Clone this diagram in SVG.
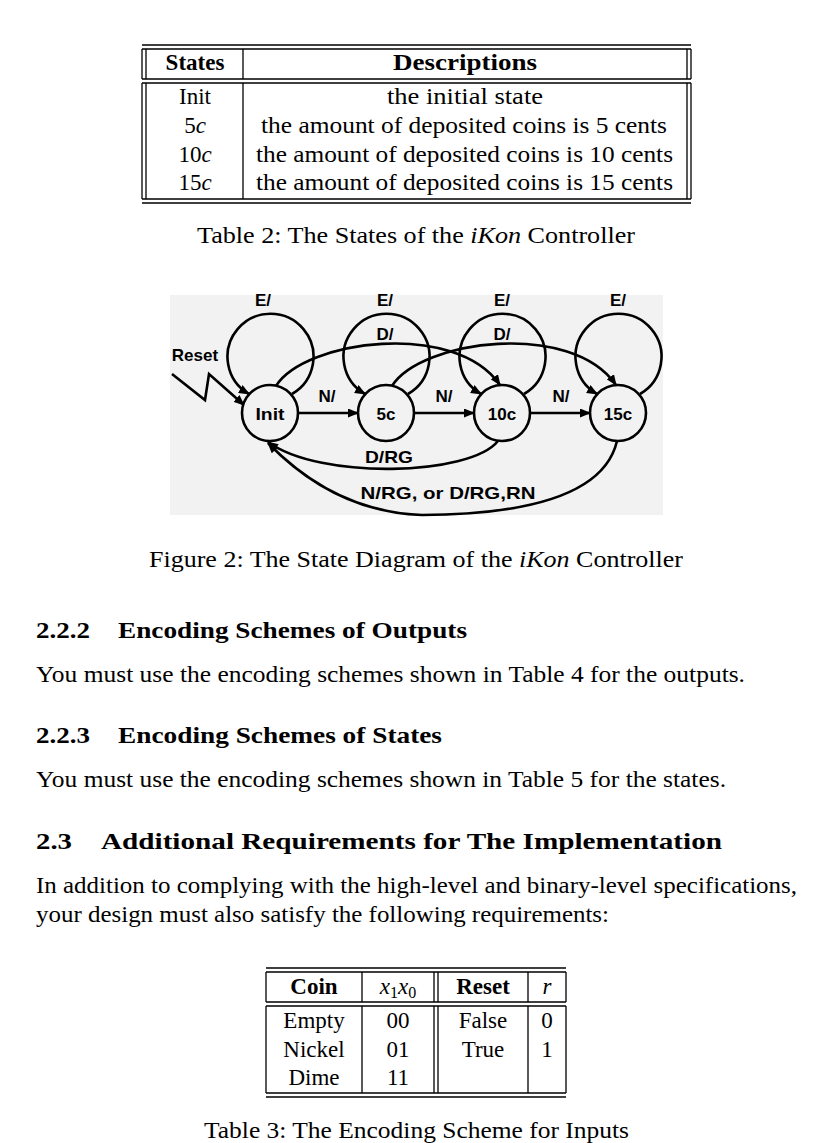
<svg xmlns="http://www.w3.org/2000/svg" width="832" height="1143" viewBox="0 0 832 1143">
<style>
.t{font-family:"Liberation Serif","Times New Roman",serif;font-size:23px;fill:#000}
.b{font-weight:bold}
.c{text-anchor:middle}
.i{font-style:italic}
.r{stroke:#000;stroke-width:1.3;fill:none}
.dl{font-family:"Liberation Sans",Arial,sans-serif;font-weight:bold;font-size:17px;fill:#000;text-anchor:middle}
.nd{fill:#f2f2f2;stroke:#000;stroke-width:2.6}
.e{fill:none;stroke:#000;stroke-width:2.6}
</style>
<defs>
<marker id="ah" markerWidth="11" markerHeight="9" refX="10" refY="4.5" orient="auto" markerUnits="userSpaceOnUse">
<path d="M0,0 L11,4.5 L0,9 z" fill="#000"/>
</marker>
</defs>
<rect width="832" height="1143" fill="#fff"/>

<g id="table2">
<path class="r" d="M142,45H691 M142,49H691 M142,79H691 M142,83H691 M142,199H691 M142,203H691"/>
<path class="r" d="M142,49V79 M146,49V79 M243,49V79 M687,49V79 M691,49V79 M142,83V199 M146,83V199 M243,83V199 M687,83V199 M691,83V199"/>
<text class="t b c" x="195" y="70">States</text>
<text class="t b c" x="465" y="70" textLength="144" lengthAdjust="spacingAndGlyphs">Descriptions</text>
<text class="t c" x="195" y="104">Init</text>
<text class="t c" x="195" y="133">5<tspan class="i">c</tspan></text>
<text class="t c" x="195" y="161.5">10<tspan class="i">c</tspan></text>
<text class="t c" x="195" y="190">15<tspan class="i">c</tspan></text>
<text class="t c" x="465" y="104" textLength="156" lengthAdjust="spacingAndGlyphs">the initial state</text>
<text class="t c" x="464" y="133" textLength="406" lengthAdjust="spacingAndGlyphs">the amount of deposited coins is 5 cents</text>
<text class="t c" x="464.5" y="161.5" textLength="417" lengthAdjust="spacingAndGlyphs">the amount of deposited coins is 10 cents</text>
<text class="t c" x="464.5" y="190" textLength="417" lengthAdjust="spacingAndGlyphs">the amount of deposited coins is 15 cents</text>
</g>
<text id="cap2" class="t" x="197" y="243" textLength="438" lengthAdjust="spacingAndGlyphs">Table 2: The States of the <tspan class="i">iKon</tspan> Controller</text>

<g id="figure">
<rect x="170" y="295" width="493" height="220" fill="#f2f2f2"/>
<g id="connectors">
<path class="e" d="M292,394 A43,43 0 1 0 249,394" marker-end="url(#ah)"/>
<path class="e" d="M408,394 A43,43 0 1 0 365,394" marker-end="url(#ah)"/>
<path class="e" d="M524,394 A43,43 0 1 0 481,394" marker-end="url(#ah)"/>
<path class="e" d="M640,394 A43,43 0 1 0 597,394" marker-end="url(#ah)"/>
<path class="e" d="M276,386 C305,340 455,320 500,385" marker-end="url(#ah)"/>
<path class="e" d="M392,386 C421,340 571,320 616,385" marker-end="url(#ah)"/>
<path class="e" d="M298,413 H358" marker-end="url(#ah)"/>
<path class="e" d="M414,413 H474" marker-end="url(#ah)"/>
<path class="e" d="M530,413 H590" marker-end="url(#ah)"/>
<path class="e" d="M498,441 C470,476 320,480 268,442" marker-end="url(#ah)"/>
<path class="e" d="M617,441 Q600,514 422,515 Q335,512 268,443" marker-end="url(#ah)"/>
<path class="e" d="M172,374 L205,400 L209,374 L244,405" marker-end="url(#ah)"/>
</g>
<g id="node-init"><circle class="nd" cx="270" cy="413" r="28"/><text class="dl" x="270" y="420" font-size="20" textLength="29" lengthAdjust="spacingAndGlyphs">Init</text></g>
<g id="node-5c"><circle class="nd" cx="386" cy="413" r="28"/><text class="dl" x="386" y="420" font-size="20">5c</text></g>
<g id="node-10c"><circle class="nd" cx="502" cy="413" r="28"/><text class="dl" x="502" y="420" font-size="20">10c</text></g>
<g id="node-15c"><circle class="nd" cx="618" cy="413" r="28"/><text class="dl" x="618" y="420" font-size="20">15c</text></g>
<g id="labels">
<text class="dl" x="195" y="361" font-size="15">Reset</text>
<text class="dl" x="263" y="306">E/</text>
<text class="dl" x="385" y="306">E/</text>
<text class="dl" x="502" y="306">E/</text>
<text class="dl" x="618" y="306">E/</text>
<text class="dl" x="385" y="340" font-size="18">D/</text>
<text class="dl" x="502" y="340" font-size="18">D/</text>
<text class="dl" x="327" y="402">N/</text>
<text class="dl" x="444" y="402">N/</text>
<text class="dl" x="561" y="402">N/</text>
<text class="dl" x="389" y="463" font-size="19" textLength="48" lengthAdjust="spacingAndGlyphs">D/RG</text>
<text class="dl" x="448" y="499" font-size="19" textLength="175" lengthAdjust="spacingAndGlyphs">N/RG, or D/RG,RN</text>
</g>
</g>
<text id="figcap" class="t" x="149" y="567" textLength="534" lengthAdjust="spacingAndGlyphs">Figure 2: The State Diagram of the <tspan class="i">iKon</tspan> Controller</text>

<g id="text-body">
<text class="t b" x="36" y="638" textLength="54" lengthAdjust="spacingAndGlyphs">2.2.2</text>
<text class="t b" x="118" y="638" textLength="349" lengthAdjust="spacingAndGlyphs">Encoding Schemes of Outputs</text>
<text class="t" x="36" y="682" textLength="709" lengthAdjust="spacingAndGlyphs">You must use the encoding schemes shown in Table 4 for the outputs.</text>
<text class="t b" x="36" y="743" textLength="54" lengthAdjust="spacingAndGlyphs">2.2.3</text>
<text class="t b" x="118" y="743" textLength="324" lengthAdjust="spacingAndGlyphs">Encoding Schemes of States</text>
<text class="t" x="36" y="787" textLength="690" lengthAdjust="spacingAndGlyphs">You must use the encoding schemes shown in Table 5 for the states.</text>
<text class="t b" x="36" y="849" font-size="27" textLength="36" lengthAdjust="spacingAndGlyphs">2.3</text>
<text class="t b" x="101" y="849" font-size="27" textLength="621" lengthAdjust="spacingAndGlyphs">Additional Requirements for The Implementation</text>
<text class="t" x="36" y="893" textLength="761" lengthAdjust="spacingAndGlyphs">In addition to complying with the high-level and binary-level specifications,</text>
<text class="t" x="36" y="921.5" textLength="573" lengthAdjust="spacingAndGlyphs">your design must also satisfy the following requirements:</text>
</g>

<g id="table3">
<path class="r" d="M266,968H566 M266,972H566 M266,1002H566 M266,1006H566 M266,1093H566 M266,1097H566"/>
<path class="r" d="M266,972V1002 M362,972V1002 M434,972V1002 M438,972V1002 M528,972V1002 M566,972V1002 M266,1006V1093 M362,1006V1093 M434,1006V1093 M438,1006V1093 M528,1006V1093 M566,1006V1093"/>
<text class="t b c" x="314" y="994">Coin</text>
<text class="t c" x="398" y="994"><tspan class="i">x</tspan><tspan font-size="16" dy="4">1</tspan><tspan class="i" dy="-4">x</tspan><tspan font-size="16" dy="4">0</tspan></text>
<text class="t b c" x="483" y="994">Reset</text>
<text class="t i c" x="547" y="994">r</text>
<text class="t c" x="314" y="1028">Empty</text>
<text class="t c" x="314" y="1056.5">Nickel</text>
<text class="t c" x="314" y="1085">Dime</text>
<text class="t c" x="398" y="1028">00</text>
<text class="t c" x="398" y="1056.5">01</text>
<text class="t c" x="398" y="1085">11</text>
<text class="t c" x="483" y="1028">False</text>
<text class="t c" x="483" y="1056.5">True</text>
<text class="t c" x="547" y="1028">0</text>
<text class="t c" x="547" y="1056.5">1</text>
</g>
<text id="cap3" class="t" x="204" y="1138" textLength="425" lengthAdjust="spacingAndGlyphs">Table 3: The Encoding Scheme for Inputs</text>
</svg>
